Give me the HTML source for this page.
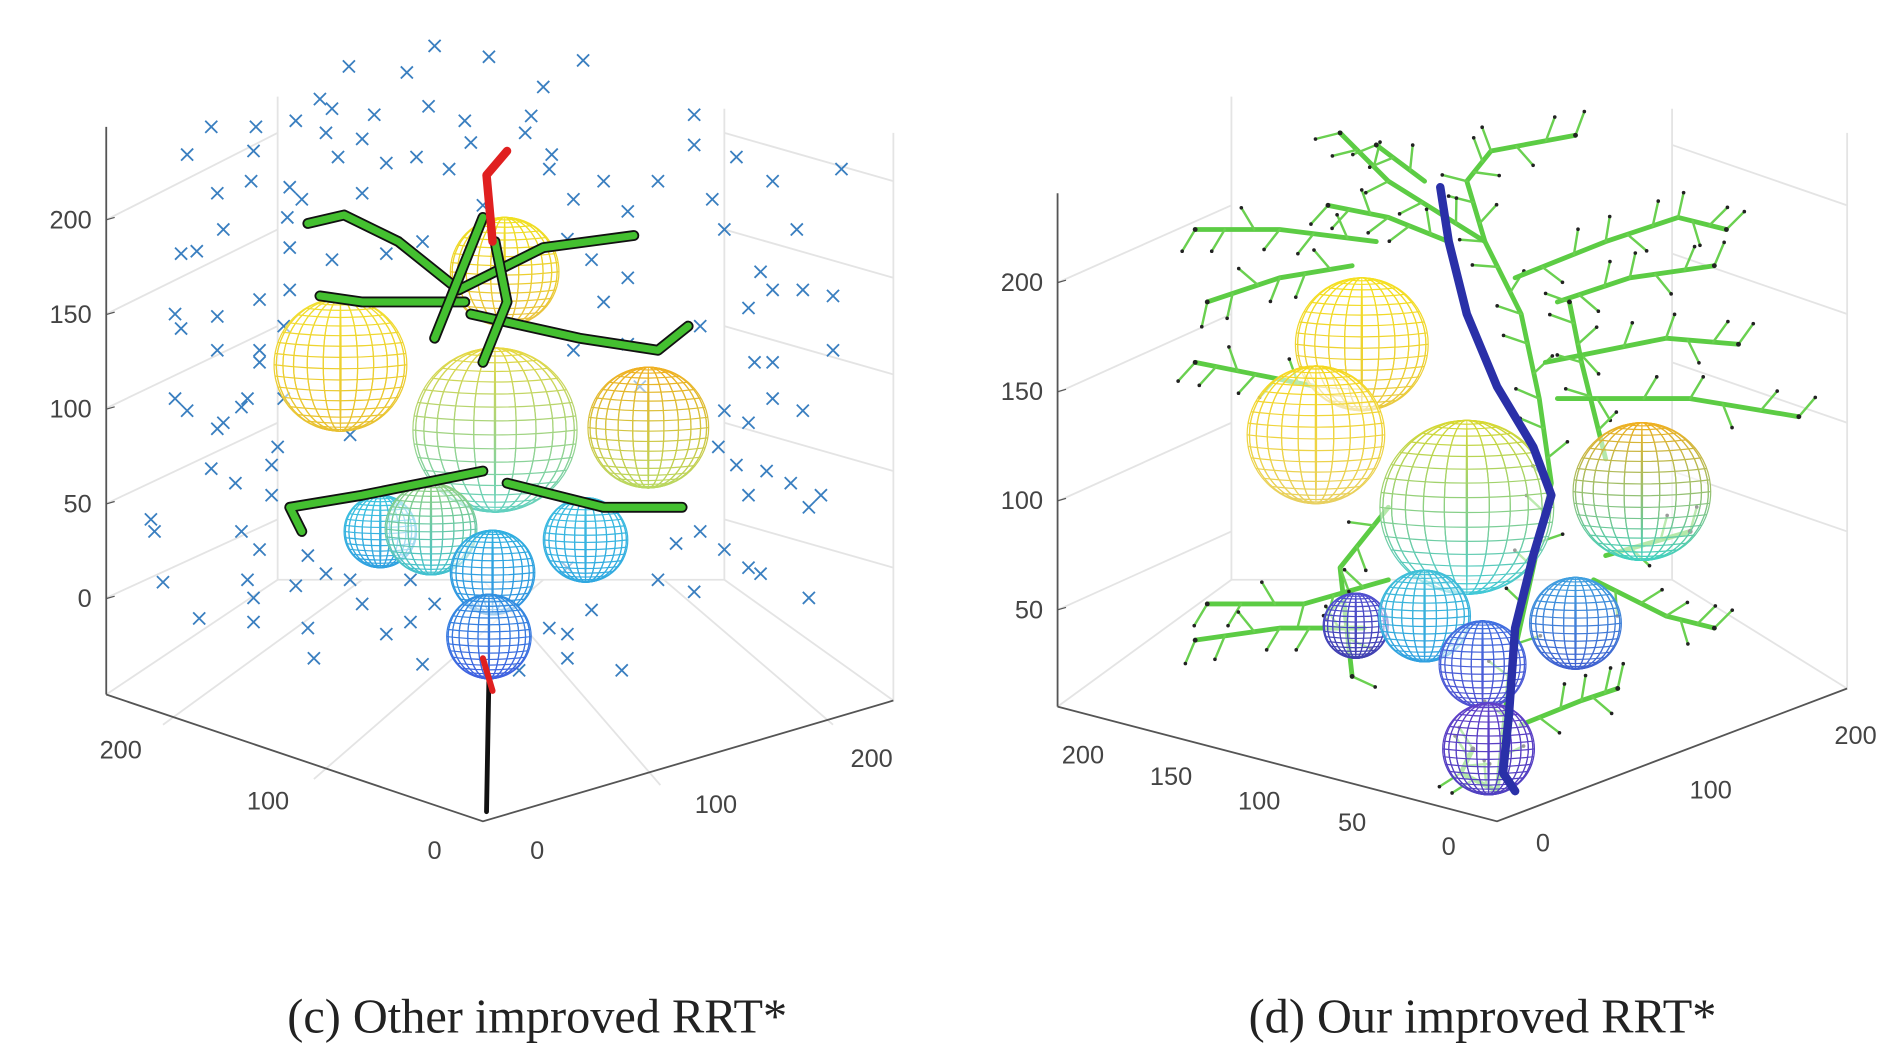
<!DOCTYPE html>
<html><head><meta charset="utf-8"><style>
html,body{margin:0;padding:0;background:#fff;}
svg{display:block;}
text{font-family:"Liberation Sans",sans-serif;}
.cap{font-family:"Liberation Serif",serif;font-size:40px;fill:#222;}
.tk{font-size:21px;fill:#444;}
</style></head><body>
<svg id="fig" width="1893" height="1046" viewBox="0 0 1568 866" preserveAspectRatio="none" xmlns="http://www.w3.org/2000/svg">
<defs id="defs"></defs>
<g id="plotC"></g>
<g id="plotD"></g>
<text class="cap" x="445" y="855" text-anchor="middle">(c) Other improved RRT*</text>
<text class="cap" x="1228" y="855" text-anchor="middle">(d) Our improved RRT*</text>
</svg>
<script>
// ---- data ----
const zTicksC = ["200","150","100","50","0"];
const zTicksD = ["200","150","100","50"];
const samplesX = [360,405,289,337,483,355,450,275,310,385,435,440,457,175,212,270,300,390,575,610,155,210,240,280,320,345,372,455,500,575,545,180,208,250,300,475,520,590,640,185,150,163,240,275,320,350,490,520,600,630,660,697,145,150,180,215,240,500,620,640,665,690,215,215,475,520,580,625,640,690,145,155,185,180,290,230,600,620,595,640,665,175,195,225,225,610,635,655,620,670,680,125,128,200,215,560,580,600,620,135,205,210,245,255,270,290,340,360,470,490,545,575,630,670,165,210,255,300,320,340,455,470,470,515,350,260,430,180,235,238,245,265,400,470,530,200,205,235];
const samplesY = [38,47,55,60,50,88,72,90,95,100,110,96,128,105,105,110,115,118,95,130,128,125,155,130,135,130,140,140,150,120,150,160,150,165,160,165,175,165,150,190,210,208,205,215,210,200,215,230,190,225,190,140,260,272,262,248,240,250,255,240,240,245,300,290,290,285,270,300,300,290,330,340,350,355,360,370,340,350,370,330,340,388,400,385,410,385,390,400,410,420,410,430,440,440,455,450,440,455,470,482,480,495,485,460,475,480,480,500,470,505,480,490,475,495,512,515,520,500,525,515,520,525,545,555,550,545,555,290,270,180,100,82,170,198,320,337,330,330];
const spheresC = [[418,225,45,"#f0e020","#e8c040"],[282,302,55,"#f2e030","#e8c030"],[537,354,50,"#f0b020","#b8d860"],[410,356,68,"#e8d840","#60d0c0"],[315,440,30,"#40c8e0","#30a0e0"],[357,438,38,"#90d080","#40c0d0"],[485,447,35,"#40c0e0","#30a8e0"],[408,474,35,"#30b0e0","#3090e0"],[405,527,35,"#3090e0","#4060e0"]];
const spheresD = [[1128,285,55,"#f5e020","#e8c840"],[1090,360,57,"#f5d820","#e8d060"],[1360,407,57,"#f0b020","#40d0c0"],[1215,420,72,"#d8d830","#40c8d8"],[1123,518,27,"#5050d0","#4040b0"],[1180,510,38,"#40c0d8","#30a0e0"],[1305,516,38,"#40a0e0","#4060d0"],[1228,550,36,"#4070e0","#5050d0"],[1233,620,38,"#6040c8","#5040c0"]];
const pathDX = [1193,1200,1215,1240,1270,1285,1270,1255,1250,1245,1255];
const pathDY = [155,200,260,320,370,410,460,520,590,640,655];
const branchesD = [
 [[1240,655],[1250,560],[1270,470],[1285,400],[1275,330],[1260,260],[1230,200],[1215,150],[1235,125],[1305,112]],
 [[1230,200],[1150,150],[1110,110]],[[1255,230],[1330,200],[1390,180],[1430,190]],
 [[1280,300],[1380,280],[1440,285]],[[1290,330],[1400,330],[1490,345]],
 [[1140,200],[1060,190],[990,190]],[[1120,220],[1060,230],[1000,250]],
 [[1090,320],[1040,310],[990,300]],[[1150,480],[1080,500],[1000,500]],
 [[1130,520],[1060,520],[990,530]],[[1320,480],[1380,510],[1420,520]],
 [[1330,460],[1400,440]],[[1260,600],[1310,580],[1340,570]],
 [[1180,150],[1140,120]],[[1200,200],[1150,180],[1100,170]],
 [[1290,250],[1350,230],[1420,220]],[[1240,655],[1210,640],[1220,620]],
 [[1150,420],[1110,470],[1120,560]],[[1330,380],[1310,300],[1300,250]]];
const branchesC = [
 [[380,240],[330,200],[285,178],[255,185]],[[380,240],[450,205],[525,195]],
 [[385,250],[300,250],[265,245]],[[390,260],[480,280],[545,290],[570,270]],
 [[400,390],[300,410],[240,420],[250,440]],[[420,400],[500,420],[565,420]],
 [[400,180],[380,230],[360,280]],[[410,200],[420,250],[400,300]]];

const NS="http://www.w3.org/2000/svg";
function mk(tag,attrs,parent){const e=document.createElementNS(NS,tag);for(const k in attrs)e.setAttribute(k,attrs[k]);parent.appendChild(e);return e;}
const defs=document.getElementById('defs');
let gid=0;

function axes(g,yAxisX,yTop,yBot,ticks,tick0,tickStep,corner,rightEnd,labelsL,labelsR,back){
  back.forEach(b=>{const l=mk('line',{x1:b[0],y1:b[1],x2:b[2],y2:b[3],stroke:'#e4e4e4','stroke-width':1.5},g);});
  const ax=mk('line',{x1:yAxisX,y1:yTop,x2:yAxisX,y2:yBot,stroke:'#555','stroke-width':1.5},g);
  
  ticks.forEach((t,i)=>{const y=tick0+i*tickStep;
    mk('line',{x1:yAxisX,y1:y,x2:yAxisX+7,y2:y-2,stroke:'#555'},g);
    const tx=mk('text',{x:yAxisX-12,y:y+7,'text-anchor':'end',class:'tk'},g);tx.textContent=t;
    });
  const p=mk('polyline',{points:`${yAxisX},${yBot} ${corner[0]},${corner[1]} ${rightEnd[0]},${rightEnd[1]}`,fill:'none',stroke:'#555','stroke-width':1.5},g);
  
  labelsL.concat(labelsR).forEach(l=>{const tx=mk('text',{x:l[1],y:l[2],'text-anchor':'middle',class:'tk'},g);tx.textContent=l[0];
    });
}
function sphere(g,s){
  const [cx,cy,r,c1,c2]=s;const id='gr'+(gid++);
  const lg=mk('linearGradient',{id:id,gradientUnits:'userSpaceOnUse',x1:cx,y1:cy-r,x2:cx,y2:cy+r},defs);
  mk('stop',{offset:0,'stop-color':c1},lg);mk('stop',{offset:1,'stop-color':c2},lg);
  const sg=mk('g',{stroke:`url(#${id})`,fill:'rgba(255,255,255,0.55)','stroke-width':1},g);
  
  mk('circle',{cx:cx,cy:cy,r:r},sg);
  const n=18;
  for(let i=1;i<n;i++){const a=-Math.PI/2+Math.PI*i/n;const y=cy+r*Math.sin(a)*0.98;const w=r*Math.cos(a);
    mk('path',{d:`M${cx-w},${y} Q${cx},${y+w*0.12} ${cx+w},${y}`,fill:'none'},sg);}
  const m=12;
  for(let i=1;i<m;i++){const a=Math.PI*i/m;const rx=Math.abs(r*Math.cos(a));
    mk('ellipse',{cx:cx,cy:cy,rx:Math.max(rx,0.5),ry:r,fill:'none'},sg);}
}
function poly(g,pts,stroke,w,name){const l=mk('polyline',{points:pts.map(p=>p.join(',')).join(' '),fill:'none',stroke:stroke,'stroke-width':w,'stroke-linecap':'round','stroke-linejoin':'round'},g);
  return l;}

// ---- plot C ----
const gC=document.getElementById('plotC');
axes(gC,88,105,575,zTicksC,182,78.4,[400,680],[740,580],
 [["200",100,628],["100",222,670],["0",360,711]],[["0",445,711],["100",593,673],["200",722,635]],
 [[230,80,230,480],[600,90,600,480],[740,110,740,580],[88,575,230,480],[230,480,600,480],[600,480,740,580],
  [88,182,230,110],[88,260,230,190],[88,338,230,270],[88,417,230,350],[88,495,230,430],
  [600,110,740,150],[600,190,740,230],[600,270,740,310],[600,350,740,390],[600,430,740,470],
  [135,600,300,480],[260,645,450,480],[547,650,400,480],[690,600,550,480]]);
const sc=mk('g',{},gC);
samplesX.forEach((x,i)=>{const y=samplesY[i];
  const m=mk('path',{d:`M${x-5},${y-5}L${x+5},${y+5}M${x-5},${y+5}L${x+5},${y-5}`,stroke:'#3a7fc0','stroke-width':1.5},sc);
  });
spheresC.forEach(s=>sphere(gC,s));
branchesC.forEach(b=>{poly(gC,b,'#111',9,'tree-branch-edge');poly(gC,b,'#44c030',6,'tree-branch');});
poly(gC,[[405,560],[403,672]],'#111',4,'start-stem');
poly(gC,[[420,125],[403,145],[408,200]],'#e02020',7,'path-red');
poly(gC,[[400,545],[408,572]],'#e02020',5,'path-red-start');

// ---- plot D ----
const gD=document.getElementById('plotD');
axes(gD,876,160,585,zTicksD,234,90.3,[1240,680],[1530,570],
 [["200",897,632],["150",970,650],["100",1043,670],["50",1120,688],["0",1200,708]],
 [["0",1278,705],["100",1417,661],["200",1537,616]],
 [[1020,80,1020,480],[1385,90,1385,480],[1530,110,1530,570],[876,585,1020,480],[1020,480,1385,480],[1385,480,1530,570],
  [876,234,1020,170],[876,325,1020,260],[876,415,1020,350],[876,505,1020,440],
  [1385,120,1530,170],[1385,210,1530,260],[1385,300,1530,350],[1385,390,1530,440]]);
branchesD.forEach(b=>{
  poly(gD,b,'#5ccc44',4,'tree-branch');
  for(let i=0;i<b.length-1;i++){const [x1,y1]=b[i],[x2,y2]=b[i+1];
    for(let t=0.3;t<1;t+=0.35){const x=x1+(x2-x1)*t,y=y1+(y2-y1)*t;const dx=x2-x1,dy=y2-y1;const L=Math.hypot(dx,dy)||1;
      const s=(Math.round(t*10)%2?1:-1);const ex=x+(dx/L*0.6-dy/L*s)*18,ey=y+(dy/L*0.6+dx/L*s)*18;
      poly(gD,[[x,y],[ex,ey]],'#6ad050',2,'tree-twig');mk('circle',{cx:ex,cy:ey,r:1.5,fill:'#222'},gD);}
  }
  const e=b[b.length-1];mk('circle',{cx:e[0],cy:e[1],r:2,fill:'#222'},gD);
});
spheresD.forEach(s=>sphere(gD,s));
poly(gD,pathDX.map((x,i)=>[x,pathDY[i]]),'#2a30a8',7,'planned-path');
</script>
</body></html>
